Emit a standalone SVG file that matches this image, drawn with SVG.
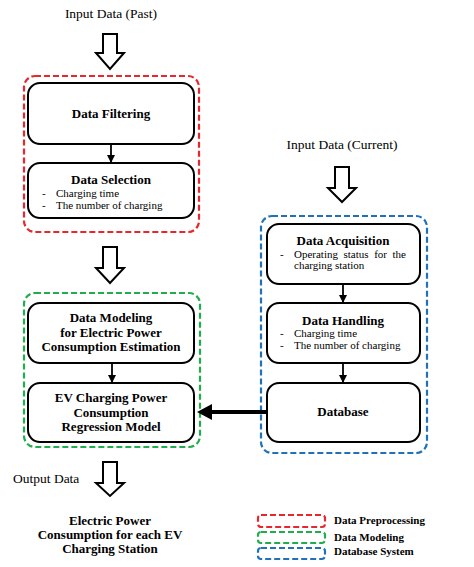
<svg xmlns="http://www.w3.org/2000/svg" width="474" height="567" viewBox="0 0 474 567">
<style>
text{font-family:"Liberation Serif","Times New Roman",serif;fill:#000}
.t{font-weight:bold;font-size:13px;text-anchor:middle}
.b{font-size:11px}
.lab{font-size:13.5px}
.lg{font-weight:bold;font-size:11px}
.box{fill:#fff;stroke:#000;stroke-width:2}
.grp{fill:none;stroke-width:2.2;stroke-dasharray:6 3}
.red{stroke:#e8262d}
.grn{stroke:#1fae4b}
.blu{stroke:#1f72b8}
.hol{fill:#fff;stroke:#000;stroke-width:2;stroke-linejoin:miter}
.con{stroke:#000;stroke-width:1.8;fill:none}
</style>
<defs>
<marker id="ah" viewBox="0 0 10 10" refX="10" refY="5" markerWidth="8" markerHeight="8" markerUnits="userSpaceOnUse" orient="auto">
<path d="M0,0 L10,5 L0,10 z" fill="#000"/>
</marker>
</defs>
<rect width="474" height="567" fill="#fff"/>

<g id="groups">
<rect class="grp red" x="24" y="76" width="175" height="156" rx="11"/>
<rect class="grp grn" x="24" y="293" width="176" height="154" rx="11"/>
<rect class="grp blu" x="261" y="216" width="166" height="237" rx="11"/>
</g>

<g id="input-past">
<text class="lab" x="111" y="18" text-anchor="middle">Input Data (Past)</text>
<polygon class="hol" points="103,34 117,34 117,53 124,53 110,69 96,53 103,53"/>
</g>
<g id="input-current">
<text class="lab" x="342" y="149" text-anchor="middle">Input Data (Current)</text>
<polygon class="hol" points="335,167 349,167 349,188 356,188 342,202 328,188 335,188"/>
</g>
<g id="arrow-mid">
<polygon class="hol" points="103,247 117,247 117,268 124,268 110,283 96,268 103,268"/>
</g>
<g id="output">
<text class="lab" x="13" y="483">Output Data</text>
<polygon class="hol" points="103,462 117,462 117,483 124,483 110,496 96,483 103,483"/>
<text class="t" x="110" y="525">Electric Power</text>
<text class="t" x="110" y="539">Consumption for each EV</text>
<text class="t" x="110" y="553">Charging Station</text>
</g>

<g id="data-filtering">
<rect class="box" x="28" y="83" width="166" height="61" rx="12"/>
<text class="t" x="111" y="118">Data Filtering</text>
</g>
<g id="data-selection">
<rect class="box" x="28" y="163" width="166" height="55" rx="12"/>
<text class="t" x="111" y="184">Data Selection</text>
<text class="b" x="42" y="197">-</text><text class="b" x="56" y="197">Charging  time</text>
<text class="b" x="42" y="209">-</text><text class="b" x="56" y="209">The number of charging</text>
</g>
<g id="data-modeling">
<rect class="box" x="28" y="303" width="166" height="60" rx="12"/>
<text class="t" x="111" y="322">Data Modeling</text>
<text class="t" x="111" y="337">for Electric Power</text>
<text class="t" x="111" y="351">Consumption Estimation</text>
</g>
<g id="regression-model">
<rect class="box" x="28" y="383" width="166" height="59" rx="12"/>
<text class="t" x="111" y="402">EV Charging Power</text>
<text class="t" x="111" y="417">Consumption</text>
<text class="t" x="111" y="431">Regression Model</text>
</g>
<g id="data-acquisition">
<rect class="box" x="267" y="224" width="153" height="60" rx="12"/>
<text class="t" x="343" y="245">Data Acquisition</text>
<text class="b" x="280" y="258">-</text><text class="b" x="294" y="258" word-spacing="2.8">Operating status for the</text>
<text class="b" x="294" y="269">charging station</text>
</g>
<g id="data-handling">
<rect class="box" x="267" y="303" width="153" height="60" rx="12"/>
<text class="t" x="343" y="325">Data Handling</text>
<text class="b" x="280" y="337">-</text><text class="b" x="294" y="337">Charging  time</text>
<text class="b" x="280" y="349">-</text><text class="b" x="294" y="349">The number of charging</text>
</g>
<g id="database">
<rect class="box" x="267" y="383" width="153" height="59" rx="12"/>
<text class="t" x="343" y="416">Database</text>
</g>

<g id="connectors">
<line class="con" x1="111" y1="144" x2="111" y2="163" marker-end="url(#ah)"/>
<line class="con" x1="112" y1="363" x2="112" y2="383" marker-end="url(#ah)"/>
<line class="con" x1="343" y1="284" x2="343" y2="303" marker-end="url(#ah)"/>
<line class="con" x1="343" y1="363" x2="343" y2="383" marker-end="url(#ah)"/>
<line x1="267" y1="412" x2="208" y2="412" stroke="#000" stroke-width="4"/>
<polygon points="197,412 212,404 212,420" fill="#000"/>
</g>

<g id="legend">
<rect class="grp red" x="258" y="515" width="67" height="12" rx="3"/>
<rect class="grp grn" x="258" y="532" width="67" height="11" rx="3"/>
<rect class="grp blu" x="258" y="548" width="67" height="11" rx="3"/>
<text class="lg" x="334" y="524">Data Preprocessing</text>
<text class="lg" x="334" y="541">Data Modeling</text>
<text class="lg" x="334" y="555">Database System</text>
</g>
</svg>
